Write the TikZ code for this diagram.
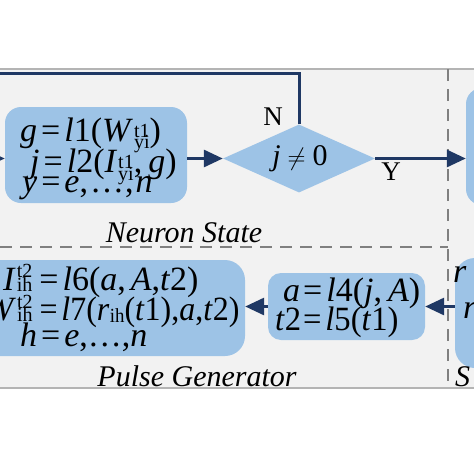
\documentclass[tikz,border=0pt]{standalone}
\usepackage{fontspec}
\setmainfont{Liberation Serif}
\usepackage{amsmath}
\usepackage{graphicx}
\usetikzlibrary{arrows.meta,shapes.geometric}
\definecolor{navy}{HTML}{1F3864}
\definecolor{boxblue}{HTML}{9DC3E6}
\definecolor{bggrey}{HTML}{F2F2F2}
\definecolor{bordergrey}{HTML}{B4B4B4}
\definecolor{dashgrey}{HTML}{808080}
\newcommand{\scf}{\fontsize{20}{20}\selectfont\upshape}
\newcommand{\ScrPair}[4]{\hspace{1pt}\makebox[0pt][l]{\raisebox{#3}{\scf #1}}\raisebox{-#4}{\scf #2}}
\newcommand{\SubOnly}[2]{\hspace{0.5pt}\raisebox{-#2}{\scf #1}}
\newcommand{\Eq}{\hspace{4pt}=\hspace{4pt}}
\newcommand{\iv}[1]{\textit{#1}}
\tikzset{
  bluebox/.style={fill=boxblue, draw=none, rectangle, inner sep=0pt},
  arr/.style={draw=navy, line width=3pt, -{Triangle[length=19pt,width=17pt]}},
  plainline/.style={draw=navy, line width=3pt},
  greydash/.style={draw=dashgrey, line width=1.6pt, dash pattern=on 12pt off 8pt},
  eq/.style={anchor=base west, inner sep=0pt, font=\fontsize{34}{38}\selectfont},
  ttl/.style={anchor=base, inner sep=0pt, font=\fontsize{30}{36}\selectfont\itshape},
  lab/.style={anchor=base, inner sep=0pt, font=\fontsize{27}{32}\selectfont}
}
\begin{document}
\begin{tikzpicture}[x=1pt,y=-1pt]
\useasboundingbox (0,0) rectangle (474,474);
\clip (0,0) rectangle (474,474);
% background panel
\fill[bggrey] (0,69) rectangle (474,388);
\draw[bordergrey, line width=2pt] (0,69) -- (474,69);
\draw[bordergrey, line width=2pt] (0,388) -- (474,388);
% dashed separators
\draw[greydash] (448,69) -- (448,388);
\draw[greydash] (0,247) -- (448,247);
% boxes
\node[bluebox, rounded corners=16pt, minimum width=182pt, minimum height=96pt] (ns) at (96,155) {};
\node[bluebox, rounded corners=16pt, minimum width=60pt, minimum height=117pt] (tr) at (496,146.5) {};
\node[bluebox, rounded corners=20pt, minimum width=285pt, minimum height=96pt] (pg) at (102.5,308) {};
\node[bluebox, rounded corners=13pt, minimum width=157pt, minimum height=67pt] (mid) at (346.5,306.5) {};
\node[bluebox, rounded corners=20pt, minimum width=65pt, minimum height=110pt] (br) at (487.5,313) {};
\node[draw=none, fill=boxblue, diamond, inner sep=0pt, minimum width=152pt, minimum height=68pt] (d) at (299,158.5) {};
% texts in neuron state box
\node[eq] (e1) at (20,141) {\iv{g}\Eq\iv{l}1(\iv{W}\ScrPair{t1}{yi}{4pt}{7pt})};
\node[eq] (e2) at (30,172) {\iv{j}\Eq\iv{l}2(\iv{I}\ScrPair{t1}{yi}{4pt}{8pt},\hspace{6pt}\iv{g})};
\node[eq] (e3) at (22,192) {\iv{y}\Eq\iv{e},\hspace{2pt}…\hspace{1pt},\hspace{2pt}\iv{n}};
% diamond text
\node[anchor=base, inner sep=0pt, font=\fontsize{30}{36}\selectfont] (dt) at (300,165) {$\text{\textit{j}}\neq\text{0}$};
\node[lab] (N) at (273,125) {N};
\node[lab] (Y) at (391,180) {Y};
% middle box texts
\node[eq] (m1) at (283,301) {\iv{a}\hspace{3pt}=\hspace{4pt}\iv{l}4(\iv{j},\hspace{6pt}\iv{A})};
\node[eq] (m2) at (275,330) {\scalebox{0.96}[1]{\iv{t}2\hspace{2pt}=\hspace{4pt}\iv{l}5(\iv{t}1)}};
% pulse generator texts
\node[eq] (p1) at (3,290) {\iv{I}\ScrPair{t2}{ih}{13pt}{1pt}\hspace{7pt}=\hspace{4pt}\iv{l}6(\iv{a},\hspace{5pt}\iv{A},\iv{t}2)};
\node[eq] (p2) at (-15,320) {\iv{W}\ScrPair{t2}{ih}{12pt}{1pt}\hspace{7pt}\scalebox{0.94}[1]{=\hspace{4pt}\iv{l}7(\iv{r}\SubOnly{ih}{2pt}(\iv{t}1),\iv{a},\iv{t}2)}};
\node[eq] (p3) at (20,346) {\iv{h}\Eq\iv{e},…,\iv{n}};
% right partial texts
\node[eq] (r1) at (453,282) {\iv{r}};
\node[eq] (r2) at (463,318) {\iv{r}};
% titles
\node[ttl] (t1) at (184,242) {Neuron State};
\node[ttl] (t2) at (197,386) {Pulse Generator};
\node[ttl, anchor=base west] (t3) at (455,386) {S};
% connectors
\coordinate (in) at (-40,158.5);
\coordinate (fb) at (-40,73);
\draw[arr] (in) -- (in -| ns.west);
\draw[arr] (ns.east |- d.west) -- (d.west);
\draw[plainline] (d.north) |- (fb);
\draw[arr] (d.east) -- (d.east -| tr.west);
\draw[arr] (br.west |- mid.east) -- (mid.east);
\draw[arr] (mid.west) -- (mid.west -| pg.east);
\end{tikzpicture}
\end{document}
